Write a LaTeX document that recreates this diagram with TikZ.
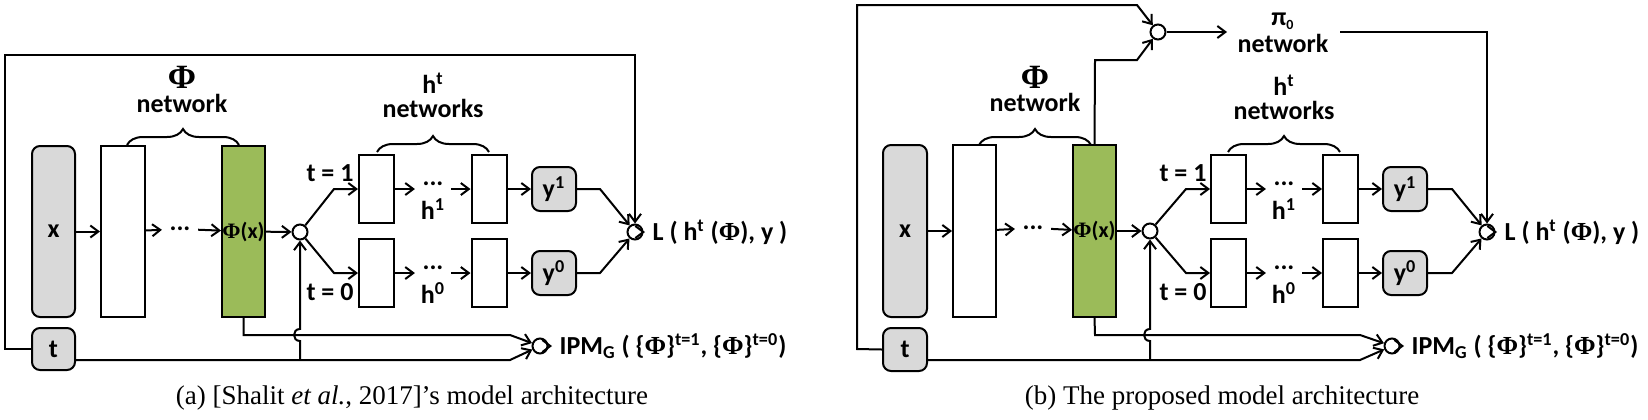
\documentclass[tikz,border=0pt]{standalone}
\usepackage{fontspec}
\setmainfont{Carlito}
\newfontfamily\serif{Liberation Serif}
\usetikzlibrary{arrows.meta,decorations.pathreplacing,calc}
\definecolor{olive}{HTML}{9BBB59}
\begin{document}
\begin{tikzpicture}[x=0.5pt,y=-0.5pt,line width=1pt,
  font=\fontsize{13}{14}\selectfont\bfseries,
  >={Straight Barb[length=4pt,width=6pt]},
  box/.style={draw,fill=white,inner sep=0pt},
  gbox/.style={draw,fill=gray!30,rounded corners=4pt,inner sep=0pt},
  grn/.style={draw,fill=olive,inner sep=0pt},
  circ/.style={draw,circle,fill=white,minimum size=7.5pt,inner sep=0pt},
  brc/.style={decorate,decoration={brace,amplitude=8pt}},
  captxt/.style={font=\serif\fontsize{13.5}{14}\selectfont}]
\useasboundingbox (0,0) rectangle (1648,419);
% ===== left panel =====
\node[gbox,minimum width=21.5pt,minimum height=85.5pt] (ax) at (53.5,231.5) {x};
\node[gbox,minimum width=21.5pt,minimum height=21pt] (at) at (53.5,349) {t};
\node[box,minimum width=22pt,minimum height=85.5pt] (ab) at (123,231.5) {};
\node[grn,minimum width=21.5pt,minimum height=85.5pt] (ag) at (243.5,231.5) {\fontsize{11}{12}\selectfont{\serif Φ}(x)};
\node (ad) at (180,229) {...};
\node[circ] (ac) at (300,232) {};
\node[box,minimum width=17.5pt,minimum height=34pt] (ah1) at (376.5,189) {};
\node[box,minimum width=17.5pt,minimum height=34pt] (ah0) at (376.5,273) {};
\node[box,minimum width=17.5pt,minimum height=34pt] (ak1) at (489,189) {};
\node[box,minimum width=17.5pt,minimum height=34pt] (ak0) at (489,273) {};
\node (ad1) at (433,184) {...};
\node (ad0) at (433,268) {...};
\node (al1) at (433,209) {h\textsuperscript{1}};
\node (al0) at (433,293) {h\textsuperscript{0}};
\node[gbox,minimum width=22pt,minimum height=22pt] (ay1) at (554,189) {y\textsuperscript{1}};
\node[gbox,minimum width=22pt,minimum height=22pt] (ay0) at (554,273) {y\textsuperscript{0}};
\node[circ] (aL) at (635,232) {};
\node[circ] (aI) at (540,346) {};
\node[anchor=west] (aLt) at (645,232) {L ( h\textsuperscript{t} ({\serif Φ}), y )};
\node[anchor=west] (aIt) at (552,346) {IPM\textsubscript{G} ( \{{\serif Φ}\}\textsuperscript{t=1}, \{{\serif Φ}\}\textsuperscript{t=0})};
\node (aPhi) at (182,77) {\serif\fontsize{17}{17}\selectfont Φ};
\node (anet) at (182,103) {network};
\node (aht) at (433,83) {h\textsuperscript{t}};
\node (ahn) at (433,108) {networks};
\node (at1) at (330,173) {t = 1};
\node (at0) at (330,292) {t = 0};
\draw[brc] (127,145) -- (239,145);
\draw[brc] (377,152) -- (489,152);
\draw[->] (ax) -- (ab);
\draw[->] (ab) -- (ad);
\draw[->] (ad) -- (ag);
\draw[->] (ag) -- (ac);
\draw[->] (ac) -- (334,189) -- (ah1);
\draw[->] (ac) -- (334,273) -- (ah0);
\draw[->] (ah1) -- (ad1.west |- ah1);
\draw[->] (ad1.east |- ah1) -- (ak1);
\draw[->] (ah0) -- (ad0.west |- ah0);
\draw[->] (ad0.east |- ah0) -- (ak0);
\draw[->] (ak1) -- (ay1);
\draw[->] (ak0) -- (ay0);
\draw[->] (ay1) -- (600,189) -- (aL);
\draw[->] (ay0) -- (600,273) -- (aL);
\draw[->] (aL) -- (aLt);
\draw[->] (aI) -- (aIt);
\draw[->] (at.west) -- (5,349) -- (5,55) -- (635,55) -- (aL);
\draw[->] (ag.south) -- (243.5,335) -- (510,335) -- (aI);
\draw[->] (at.east |- {(0,360)}) -- (510,360) -- (aI);
\draw[->] (300,360) -- (300,341) .. controls (292,341) and (292,329) .. (300,329) -- (ac);
\node[captxt] (acap) at (412,398) {(a) [Shalit \textit{et al.}, 2017]’s model architecture};
% ===== right panel =====
\node[gbox,minimum width=22pt,minimum height=86pt] (bx) at (905,231) {x};
\node[gbox,minimum width=22pt,minimum height=21.5pt] (bt) at (905,349.5) {t};
\node[box,minimum width=21.5pt,minimum height=86pt] (bb) at (974.5,231) {};
\node[grn,minimum width=21.5pt,minimum height=86pt] (bg) at (1094.5,231) {\fontsize{11}{12}\selectfont{\serif Φ}(x)};
\node (bd) at (1033,228) {...};
\node[circ] (bc) at (1150,231) {};
\node[box,minimum width=17.5pt,minimum height=34pt] (bh1) at (1228.5,189) {};
\node[box,minimum width=17.5pt,minimum height=34pt] (bh0) at (1228.5,273) {};
\node[box,minimum width=17.5pt,minimum height=34pt] (bk1) at (1340.5,189) {};
\node[box,minimum width=17.5pt,minimum height=34pt] (bk0) at (1340.5,273) {};
\node (bd1) at (1284,184) {...};
\node (bd0) at (1284,268) {...};
\node (bl1) at (1284,209) {h\textsuperscript{1}};
\node (bl0) at (1284,293) {h\textsuperscript{0}};
\node[gbox,minimum width=22pt,minimum height=22pt] (by1) at (1405,189) {y\textsuperscript{1}};
\node[gbox,minimum width=22pt,minimum height=22pt] (by0) at (1405,273) {y\textsuperscript{0}};
\node[circ] (bL) at (1487,232) {};
\node[circ] (bI) at (1392,346) {};
\node[circ] (bp) at (1158,32) {};
\node[anchor=west] (bLt) at (1497,232) {L ( h\textsuperscript{t} ({\serif Φ}), y )};
\node[anchor=west] (bIt) at (1404,346) {IPM\textsubscript{G} ( \{{\serif Φ}\}\textsuperscript{t=1}, \{{\serif Φ}\}\textsuperscript{t=0})};
\node (bpi) at (1283,21) {π\textsubscript{\fontsize{7}{7}\selectfont 0}};
\node (bpn) at (1283,43) {network};
\node (bPhi) at (1035,77) {\serif\fontsize{17}{17}\selectfont Φ};
\node (bnet) at (1035,102) {network};
\node (bht) at (1284,85) {h\textsuperscript{t}};
\node (bhn) at (1284,110) {networks};
\node (bt1) at (1183,173) {t = 1};
\node (bt0) at (1183,292) {t = 0};
\draw[brc] (979,145) -- (1091,145);
\draw[brc] (1228,152) -- (1340,152);
\draw[->] (bx) -- (bb);
\draw[->] (bb) -- (bd);
\draw[->] (bd) -- (bg);
\draw[->] (bg) -- (bc);
\draw[->] (bc) -- (1186,189) -- (bh1);
\draw[->] (bc) -- (1186,273) -- (bh0);
\draw[->] (bh1) -- (bd1.west |- bh1);
\draw[->] (bd1.east |- bh1) -- (bk1);
\draw[->] (bh0) -- (bd0.west |- bh0);
\draw[->] (bd0.east |- bh0) -- (bk0);
\draw[->] (bk1) -- (by1);
\draw[->] (bk0) -- (by0);
\draw[->] (by1) -- (1452,189) -- (bL);
\draw[->] (by0) -- (1452,273) -- (bL);
\draw[->] (bL) -- (bLt);
\draw[->] (bI) -- (bIt);
\draw[->] (bt.west) -- (857,349) -- (857,5) -- (1137,5) -- (bp);
\draw[->] (bg.north) -- (1095,60) -- (1137,60) -- (bp);
\draw[->] (bp) -- (1227,32);
\draw[->] (1340,32) -- (1487,32) -- (bL);
\draw[->] (bg.south) -- (1095,335) -- (1360,335) -- (bI);
\draw[->] (bt.east |- {(0,360)}) -- (1360,360) -- (bI);
\draw[->] (1150,360) -- (1150,341) .. controls (1142,341) and (1142,329) .. (1150,329) -- (bc);
\node[captxt] (bcap) at (1222,398) {(b) The proposed model architecture};
\end{tikzpicture}
\end{document}
